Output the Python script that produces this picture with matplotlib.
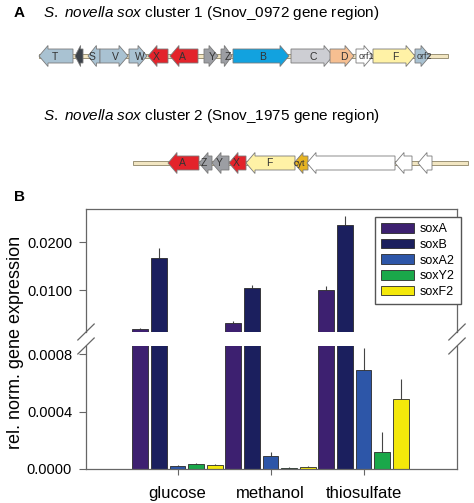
import matplotlib
matplotlib.use("Agg")
import matplotlib.pyplot as plt
from matplotlib.patches import Polygon, Rectangle

plt.rcParams['font.family'] = ['Liberation Sans', 'DejaVu Sans']
plt.rcParams['mathtext.fontset'] = 'custom'
plt.rcParams['mathtext.rm'] = 'Liberation Sans'
plt.rcParams['mathtext.it'] = 'Liberation Sans:italic'

# ---- panel A: gene regions (pixel-like units along the row) ----
c1_names = ['T', '', 'S', 'V', 'W', 'X', 'A', 'Y', 'Z', 'B', 'C', 'D', 'orf1', 'F', 'orf2']
c1_start = [39, 75, 88, 100, 129, 148, 170, 204, 221, 233, 291, 330, 356, 373, 415]
c1_end = [73, 83, 100, 128, 147, 168, 198, 218, 232, 289, 333, 354, 373, 415, 430]
c1_dir = [-1, -1, -1, 1, 1, -1, -1, 1, 1, 1, 1, 1, 1, 1, 1]
c1_col = ['#a9c2d2', '#3c4249', '#a9c2d2', '#a9c2d2', '#a9c2d2', '#e3232b', '#e3232b',
          '#9c9ea3', '#9c9ea3', '#12a2df', '#cdced3', '#f6bf91', '#ffffff', '#fff2a6', '#a9c2d2']
c1_line = (39, 448)

c2_names = ['A', 'Z', 'Y', 'X', 'F', 'cyt', '', '', '']
c2_start = [168, 199, 212, 229, 246, 294, 307, 395, 418]
c2_end = [199, 212, 229, 246, 295, 308, 395, 412, 432]
c2_dir = [-1, -1, -1, -1, -1, -1, -1, -1, -1]
c2_col = ['#e3232b', '#9c9ea3', '#9c9ea3', '#e3232b', '#fff2a6', '#e6b322',
          '#ffffff', '#ffffff', '#ffffff']
c2_line = (133, 468)

# ---- panel B: expression data ----
conditions = ['glucose', 'methanol', 'thiosulfate']
genes = ['soxA', 'soxB', 'soxA2', 'soxY2', 'soxF2']
colors = ['#3d2070', '#1b1f5e', '#2d56a8', '#1aa84a', '#f4e80a']
values = {
    'soxA': [0.00176, 0.00315, 0.0100],
    'soxB': [0.01665, 0.0104, 0.0236],
    'soxA2': [0.000021, 0.000090, 0.000693],
    'soxY2': [0.000037, 0.000010, 0.000116],
    'soxF2': [0.000030, 0.000017, 0.000489],
}
errors = {
    'soxA': [0.0002, 0.0004, 0.0008],
    'soxB': [0.0022, 0.0007, 0.0019],
    'soxA2': [0.000007, 0.00003, 0.00015],
    'soxY2': [0.000008, 0.000003, 0.00014],
    'soxF2': [0.000008, 0.000003, 0.000137],
}

fig = plt.figure(figsize=(4.74, 5.03), dpi=100)

axA = fig.add_axes([0, 0, 1, 1])
axA.set_xlim(0, 474)
axA.set_ylim(503, 0)
axA.axis('off')


def draw_cluster(ax, yc, names, starts, ends, dirs, cols, line):
    ax.add_patch(Rectangle((line[0], yc - 2), line[1] - line[0], 4,
                           facecolor='#f2e6c2', edgecolor='#8d8466', lw=0.6, zorder=1))
    bh, hh = 7, 10.5
    for n, s, e, d, col in zip(names, starts, ends, dirs, cols):
        h = min(9, (e - s) * 0.7)
        if d > 0:
            pts = [(s, yc - bh), (e - h, yc - bh), (e - h, yc - hh), (e, yc),
                   (e - h, yc + hh), (e - h, yc + bh), (s, yc + bh)]
        else:
            pts = [(e, yc - bh), (s + h, yc - bh), (s + h, yc - hh), (s, yc),
                   (s + h, yc + hh), (s + h, yc + bh), (e, yc + bh)]
        ax.add_patch(Polygon(pts, closed=True, facecolor=col, edgecolor='#7a7a7a',
                             lw=0.6, zorder=2))
        if n:
            ax.text((s + e) / 2 + d * 1.5, yc + 0.5, n, ha='center', va='center',
                    fontsize=6.5 if len(n) > 2 else 7.5, color='#333333', zorder=3)


axA.text(14, 13, 'A', fontsize=11, fontweight='bold', va='center')
axA.text(43, 13, r'$\it{S.}$ $\it{novella}$ $\it{sox}$ cluster 1 (Snov_0972 gene region)',
         fontsize=11, va='center')
draw_cluster(axA, 56, c1_names, c1_start, c1_end, c1_dir, c1_col, c1_line)
axA.text(43, 116, r'$\it{S.}$ $\it{novella}$ $\it{sox}$ cluster 2 (Snov_1975 gene region)',
         fontsize=11, va='center')
draw_cluster(axA, 163, c2_names, c2_start, c2_end, c2_dir, c2_col, c2_line)
axA.text(14, 197, 'B', fontsize=11, fontweight='bold', va='center')

# ---- broken-axis bar chart ----
W, H = 474, 503
left, width = 86 / W, (457 - 86) / W
ax_up = fig.add_axes([left, 1 - 332 / H, width, 123 / H])
ax_lo = fig.add_axes([left, 1 - 469 / H, width, 123 / H])

offsets = [-0.4, -0.2, 0.0, 0.2, 0.4]
xs = range(len(conditions))
for ax in (ax_up, ax_lo):
    for g, col, off in zip(genes, colors, offsets):
        pos = [x + off for x in xs]
        ax.bar(pos, values[g], width=0.17, color=col, edgecolor='#2a2a2a', lw=0.6, zorder=2)
        ax.errorbar(pos, values[g], yerr=[[0] * 3, errors[g]], fmt='none',
                    ecolor='#444444', elinewidth=0.8, capsize=0, zorder=1)
    ax.set_xlim(-0.984, 3.005)
    for sp in ax.spines.values():
        sp.set_color('#666666')
        sp.set_linewidth(0.9)
    ax.tick_params(axis='y', direction='out', length=5, color='#666666', labelsize=10.5,
                   pad=5)

ax_up.set_ylim(0.0012, 0.027)
ax_up.set_yticks([0.01, 0.02])
ax_up.set_yticklabels(['0.0100', '0.0200'])
ax_up.spines['bottom'].set_visible(False)
ax_up.set_xticks([])

ax_lo.set_ylim(0, 0.000858)
ax_lo.set_yticks([0, 0.0004, 0.0008])
ax_lo.set_yticklabels(['0.0000', '0.0004', '0.0008'])
ax_lo.spines['top'].set_visible(False)
ax_lo.set_xticks(list(xs))
ax_lo.set_xticklabels(conditions, fontsize=12)
ax_lo.tick_params(axis='x', direction='out', length=4, color='#666666', pad=8)

# break marks
for ax, y in ((ax_up, 0), (ax_lo, 1)):
    for x in (0, 1):
        ax.plot([x - 0.022, x + 0.022], [y - 0.065, y + 0.065], transform=ax.transAxes,
                color='#666666', lw=0.9, clip_on=False)

handles = [Rectangle((0, 0), 1, 1, facecolor=c, edgecolor='#2a2a2a', lw=0.6) for c in colors]
leg = ax_up.legend(handles, genes, loc='upper left', bbox_to_anchor=(0.779, 0.935),
                   borderaxespad=0, fontsize=9, handlelength=2.6, handleheight=0.8,
                   labelspacing=0.28, handletextpad=0.5, fancybox=False, framealpha=1,
                   borderpad=0.5)
leg.get_frame().set_edgecolor('#555555')

fig.text(16 / W, 1 - 342 / H, 'rel. norm. gene expression', rotation=90,
         ha='center', va='center', fontsize=13)

plt.savefig('out.png', dpi=100)
